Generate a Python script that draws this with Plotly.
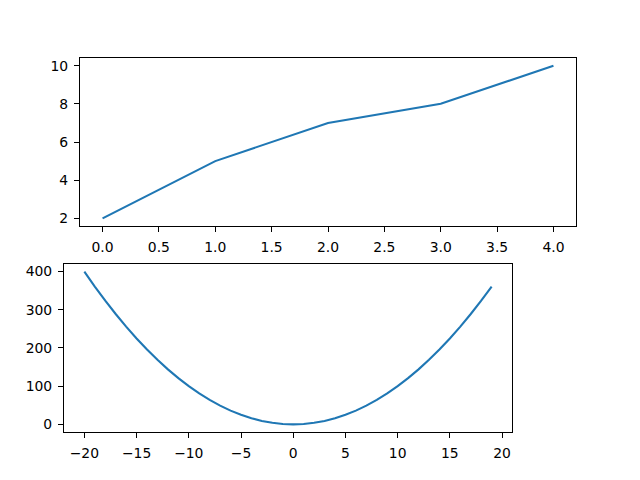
import plotly.graph_objects as go

# Top panel data
top_x = [0, 1, 2, 3, 4]
top_y = [2, 5, 7, 8, 10]

# Bottom panel data
bot_x = [-20, -19, -18, -17, -16, -15, -14, -13, -12, -11, -10, -9, -8, -7, -6, -5, -4, -3, -2, -1,
         0, 1, 2, 3, 4, 5, 6, 7, 8, 9, 10, 11, 12, 13, 14, 15, 16, 17, 18, 19]
bot_y = [400, 361, 324, 289, 256, 225, 196, 169, 144, 121, 100, 81, 64, 49, 36, 25, 16, 9, 4, 1,
         0, 1, 4, 9, 16, 25, 36, 49, 64, 81, 100, 121, 144, 169, 196, 225, 256, 289, 324, 361]

top_xticks = [0, 0.5, 1, 1.5, 2, 2.5, 3, 3.5, 4]
top_yticks = [2, 4, 6, 8, 10]
bot_xticks = [-20, -15, -10, -5, 0, 5, 10, 15, 20]
bot_yticks = [0, 100, 200, 300, 400]

color = "#1f77b4"
fig = go.Figure()
fig.add_trace(go.Scatter(x=top_x, y=top_y, mode="lines",
                         line=dict(color=color, width=2.1, simplify=False),
                         xaxis="x", yaxis="y", showlegend=False))
fig.add_trace(go.Scatter(x=bot_x, y=bot_y, mode="lines",
                         line=dict(color=color, width=2.1, simplify=False),
                         xaxis="x2", yaxis="y2", showlegend=False))

axis_common = dict(showline=True, linecolor="black", linewidth=1.1, mirror=True,
                   ticks="outside", ticklen=5, tickwidth=1.1, tickcolor="black",
                   showgrid=False, zeroline=False, ticklabelstandoff=3,
                   tickfont=dict(family="DejaVu Sans", size=13.9, color="black"))

# The page places the figure 8px from the top-left corner; domains compensate.
fig.update_layout(
    width=640, height=480,
    margin=dict(l=0, r=0, t=0, b=0),
    paper_bgcolor="white", plot_bgcolor="white",
    xaxis=dict(domain=[0.1125, 0.8875], anchor="y", range=[-0.2, 4.2],
               tickvals=top_xticks, tickformat=".1f", **axis_common),
    yaxis=dict(domain=[0.5458, 0.8958], anchor="x", range=[1.6, 10.4],
               tickvals=top_yticks, **axis_common),
    xaxis2=dict(domain=[0.0875, 0.7875], anchor="y2", range=[-21.95, 20.95],
                tickvals=bot_xticks, **axis_common),
    yaxis2=dict(domain=[0.1167, 0.4667], anchor="x2", range=[-20, 420],
                tickvals=bot_yticks, **axis_common),
)

fig.write_html("out.html")
